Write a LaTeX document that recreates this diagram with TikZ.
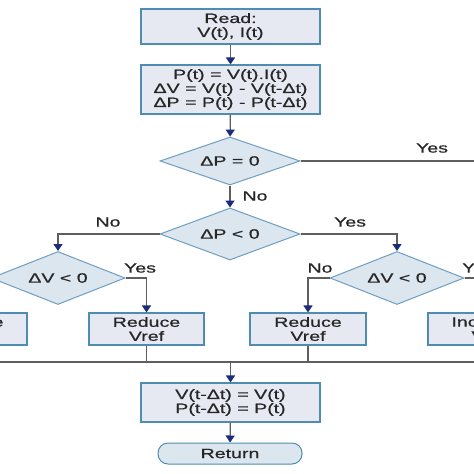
\documentclass[tikz,border=0pt]{standalone}
\usepackage{fontspec}
\setmainfont{Liberation Sans}[FakeStretch=1.45, FakeBold=0.7]
\usepackage{tikz}
\usetikzlibrary{shapes.geometric,arrows.meta}
\definecolor{boxfill}{HTML}{E6E9F2}
\definecolor{boxline}{HTML}{4F8DB0}
\definecolor{decfill}{HTML}{DCE6EF}
\definecolor{decline}{HTML}{6E9EC2}
\definecolor{linegray}{HTML}{5E5E5E}
\definecolor{tipblue}{HTML}{1C2B7A}
\tikzset{proc/.style={rectangle, draw=boxline, fill=boxfill, line width=1.2pt, text centered, align=center, inner sep=0pt, text=black!85},
       dec/.style={diamond, aspect=2.7, draw=decline, fill=decfill, line width=1pt, inner sep=0pt, text=black!85},
       term/.style={rectangle, rounded corners=10pt, draw=boxline, fill=decfill, line width=1pt, text centered, inner sep=0pt, text=black!85},
       flow/.style={draw=linegray, line width=1.3pt, -{Triangle[length=7pt,width=9pt,color=tipblue]}},
       link/.style={draw=linegray, line width=1.3pt},
       lbl/.style={inner sep=0pt, text=black!85}}

\begin{document}
\begin{tikzpicture}[x=1pt, y=-1pt, font=\fontsize{13.5}{14}\selectfont]
\useasboundingbox (0,0) rectangle (474,474);
\clip (0,0) rectangle (474,474);
\fill[white] (0,0) rectangle (474,474);

\node [proc, minimum width=179pt, minimum height=35pt] (read) at (230.5,26.5) {Read:\\V(t), I(t)};
\node [proc, minimum width=179pt, minimum height=49pt] (calc) at (230.5,89.5) {P(t) = V(t).I(t)\\ΔV = V(t) - V(t-Δt)\\ΔP = P(t) - P(t-Δt)};
\node [dec, minimum width=140pt, minimum height=48pt] (dpzero) at (230,161) {ΔP = 0};
\node [dec, minimum width=140pt, minimum height=52pt] (dpneg) at (230,234) {ΔP < 0};
\node [dec, minimum width=134pt, minimum height=53pt] (dvleft) at (58,278) {ΔV < 0};
\node [dec, minimum width=134pt, minimum height=53pt] (dvright) at (397,278) {ΔV < 0};
\node [proc, minimum width=122pt, minimum height=32pt] (incleft) at (-34,329) {Increase\\Vref};
\node [proc, minimum width=115pt, minimum height=32pt] (redleft) at (146.5,329) {Reduce\\Vref};
\node [proc, minimum width=116pt, minimum height=32pt] (redright) at (308,329) {Reduce\\Vref};
\node [proc, minimum width=122pt, minimum height=32pt] (incright) at (489,329) {Increase\\Vref};
\node [proc, minimum width=179pt, minimum height=39pt] (update) at (230.5,402.5) {V(t-Δt) = V(t)\\P(t-Δt) = P(t)};
\node [term, minimum width=144pt, minimum height=21pt] (return) at (230,453.5) {Return};

\coordinate (mergeL) at (-120,362);
\coordinate (mergeR) at (600,362);

\draw [flow] (read) -- (calc);
\draw [flow] (calc) -- (dpzero);
\draw [flow] (dpzero) -- (dpneg);
\draw [link] (dpzero.east) -| (mergeR);
\draw [flow] (dpneg.west) -| (dvleft.north);
\draw [flow] (dpneg.east) -| (dvright.north);
\draw [flow] (dvleft.west) -| (incleft.north);
\draw [flow] (dvleft.east) -| (redleft.north);
\draw [flow] (dvright.west) -| (redright.north);
\draw [flow] (dvright.east) -| (incright.north);
\draw [link] (mergeL) -- (mergeR);
\foreach \n in {incleft,redleft,redright,incright}
  \draw [link] (\n.south) -- (\n.south |- mergeL);
\draw [flow] (update.north |- mergeL) -- (update);
\draw [flow] (update) -- (return);

\node [lbl] (yeszero) at (432,148) {Yes};
\node [lbl] (nozero) at (255,196) {No};
\node [lbl] (noneg) at (108,222) {No};
\node [lbl] (yesneg) at (350,222) {Yes};
\node [lbl] (yesleft) at (140,268) {Yes};
\node [lbl] (noright) at (320,268) {No};
\node [lbl, anchor=west] (yesright) at (462,268) {Yes};
\end{tikzpicture}
\end{document}
